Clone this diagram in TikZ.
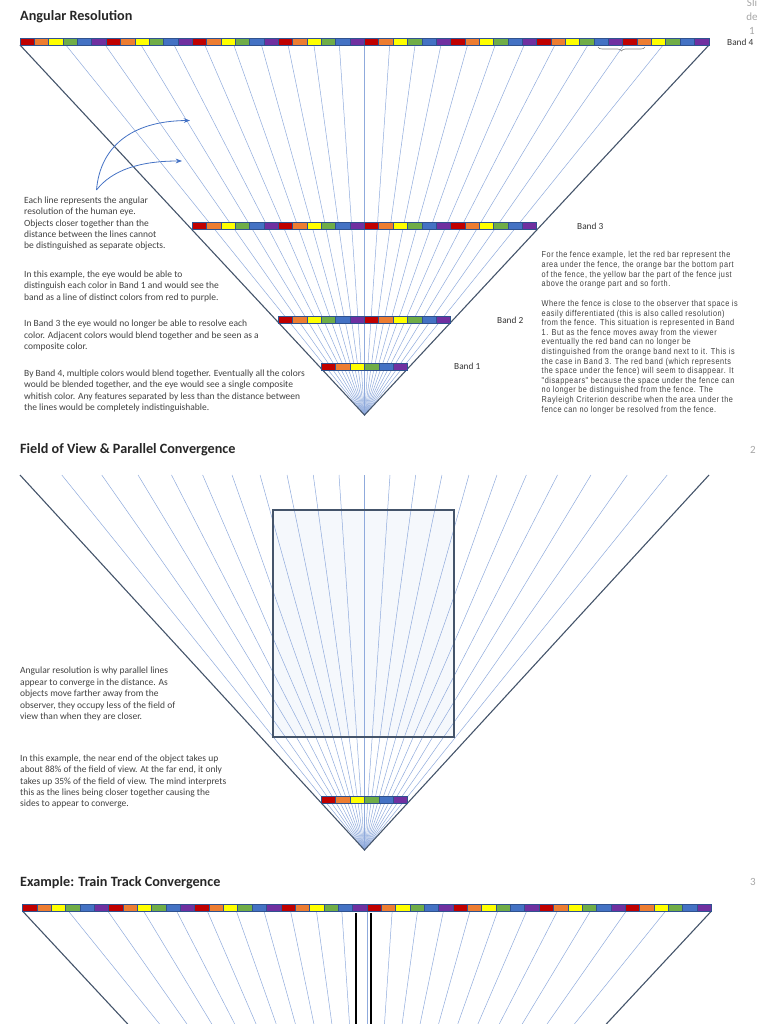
\documentclass[tikz,border=0pt]{standalone}
\usepackage{fontspec}
\setmainfont{Carlito}
\newfontfamily\narrowfont{Liberation Sans}[FakeStretch=0.85,LetterSpace=6]
\usepackage{tikz}
\usetikzlibrary{arrows.meta,decorations.pathreplacing}
\definecolor{bdred}{HTML}{C00000}
\definecolor{bdorange}{HTML}{ED7D31}
\definecolor{bdyellow}{HTML}{FFFF00}
\definecolor{bdgreen}{HTML}{70AD47}
\definecolor{bdblue}{HTML}{4472C4}
\definecolor{bdpurple}{HTML}{7030A0}
\definecolor{bdedge}{HTML}{2F528F}
\definecolor{fanblue}{HTML}{8FAADC}
\definecolor{fanink}{HTML}{44546A}
\definecolor{txtgray}{HTML}{404040}
\definecolor{numgray}{HTML}{A6A6A6}
\definecolor{boxfill}{HTML}{F5F8FC}
\colorlet{seg0}{bdred}
\colorlet{seg1}{bdorange}
\colorlet{seg2}{bdyellow}
\colorlet{seg3}{bdgreen}
\colorlet{seg4}{bdblue}
\colorlet{seg5}{bdpurple}
\tikzset{
  bandSeg/.style={draw=bdedge, line width=0.6pt},
  fanLine/.style={draw=fanblue, line width=0.5pt},
  fanEdge/.style={draw=fanink, line width=1.1pt},
  titleText/.style={font=\fontsize{14.2}{16}\selectfont\bfseries, text=black!85, anchor=west, inner sep=0pt},
  bodyText/.style={font=\fontsize{9.5}{11.4}\selectfont, text=txtgray, align=left, anchor=north west, inner sep=0pt},
  fenceText/.style={font=\narrowfont\fontsize{8.6}{9.6}\selectfont, text=txtgray, align=left, anchor=north west, inner sep=0pt},
  bandLabel/.style={font=\fontsize{9.3}{11}\selectfont, text=black!80, anchor=west, inner sep=0pt},
  pageNum/.style={font=\fontsize{11}{13}\selectfont, text=numgray, inner sep=0pt},
  pointArrow/.style={-{Stealth[length=2.2mm]}, draw=bdblue, line width=0.8pt},
  trackRail/.style={draw=black, line width=1.1pt}
}
% band of coloured cells: left x, centre y, number of cells
\newcommand{\colorband}[3]{%
  \foreach \i [evaluate=\i as \c using {int(mod(\i-1,6))}] in {1,...,#3}
    \draw[bandSeg, fill=seg\c] ({#1+(\i-1)*14.35},{#2-3.5}) rectangle ++(14.35,7);
}
% fan of sight lines: apex x, apex y, depth
\newcommand{\fanlines}[3]{%
  \foreach \k in {1,...,21}
    \draw[fanLine] (#1,#2) -- ++({#3*tan(-42.8+\k*85.6/22)},{-#3});
  \draw[fanEdge] ({#1-344.5},{#2-#3}) -- (#1,#2) -- ({#1+344.5},{#2-#3});
}

\begin{document}
\begin{tikzpicture}[x=1pt,y=-1pt]
  \useasboundingbox (0,0) rectangle (768,1024);
  \clip (0,0) rectangle (768,1024);

  % slide 1
  \node[titleText] (title1) at (20,17) {Angular Resolution};
  \node[pageNum] (sl1) at (752,3) {Sli};
  \node[pageNum] (sl2) at (752,17) {de};
  \node[pageNum] (sl3) at (752,31) {1};
  \fanlines{364.5}{415}{370}
  \colorband{20}{41.5}{48}
  \colorband{192.2}{226}{24}
  \colorband{278.3}{320}{12}
  \colorband{321.4}{367}{6}
  \draw[decorate, decoration={brace, amplitude=4pt}, draw=black!50, line width=0.6pt] (645,47) -- (598,47);
  \node[bandLabel] (band4) at (727,42) {Band 4};
  \node[bandLabel] (band3) at (577,226) {Band 3};
  \node[bandLabel] (band2) at (497,320) {Band 2};
  \node[bandLabel] (band1) at (454,366) {Band 1};

  \coordinate (arrfrom) at (96.5,190);
  \coordinate (arrto1) at (190,120.5);
  \coordinate (arrto2) at (182,161);
  \draw[pointArrow] (arrfrom) .. controls (100,148) and (130,121) .. (arrto1);
  \draw[pointArrow] (arrfrom) .. controls (112,170) and (140,161) .. (arrto2);

  \node[bodyText] (lines) at (24,196.5) {Each line represents the angular\\resolution of the human eye.\\Objects closer together than the\\distance between the lines cannot\\be distinguished as separate objects.};
  \node[bodyText] (eg1) at (24,270.5) {In this example, the eye would be able to\\distinguish each color in Band 1 and would see the\\band as a line of distinct colors from red to purple.};
  \node[bodyText] (eg3) at (24,320) {In Band 3 the eye would no longer be able to resolve each\\color. Adjacent colors would blend together and be seen as a\\composite color.};
  \node[bodyText] (eg4) at (24,369.5) {By Band 4, multiple colors would blend together. Eventually all the colors\\would be blended together, and the eye would see a single composite\\whitish color. Any features separated by less than the distance between\\the lines would be completely indistinguishable.};

  \node[fenceText] (fence1) at (541.5,251.5) {For the fence example, let the red bar represent the\\area under the fence, the orange bar the bottom part\\of the fence, the yellow bar the part of the fence just\\above the orange part and so forth.};
  \node[fenceText] (fence2) at (541.5,300) {Where the fence is close to the observer that space is\\easily differentiated (this is also called resolution)\\from the fence. This situation is represented in Band\\1. But as the fence moves away from the viewer\\eventually the red band can no longer be\\distinguished from the orange band next to it. This is\\the case in Band 3. The red band (which represents\\the space under the fence) will seem to disappear. It\\"disappears" because the space under the fence can\\no longer be distinguished from the fence. The\\Rayleigh Criterion describe when the area under the\\fence can no longer be resolved from the fence.};

  % slide 2
  \node[titleText] (title2) at (20,450) {Field of View \& Parallel Convergence};
  \node[pageNum] (num2) at (753,450) {2};
  \fill[boxfill] (273,510) rectangle (454,737);
  \fanlines{364.5}{850}{375}
  \draw[fanink, line width=1.1pt] (273,510) rectangle (454,737);
  \colorband{321.4}{800}{6}
  \node[bodyText] (why) at (20,667) {Angular resolution is why parallel lines\\appear to converge in the distance. As\\objects move farther away from the\\observer, they occupy less of the field of\\view than when they are closer.};
  \node[bodyText] (near) at (20,754.5) {In this example, the near end of the object takes up\\about 88\% of the field of view. At the far end, it only\\takes up 35\% of the field of view. The mind interprets\\this as the lines being closer together causing the\\sides to appear to converge.};

  % slide 3
  \node[titleText] (title3) at (20,883) {Example: Train Track Convergence};
  \node[pageNum] (num3) at (753,882) {3};
  \fanlines{367}{1281}{370}
  \colorband{22.5}{907.5}{48}
  \draw[trackRail] (356,913) -- (356,1024);
  \draw[trackRail] (371,913) -- (371,1024);
\end{tikzpicture}
\end{document}
